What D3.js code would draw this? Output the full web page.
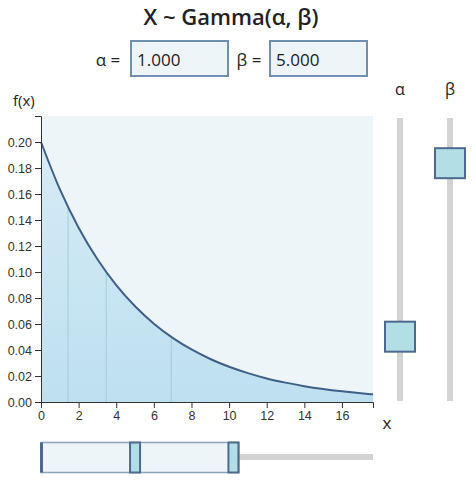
<!DOCTYPE html>
<html>
<head>
<meta charset="utf-8">
<script src="https://cdn.jsdelivr.net/npm/d3@7"></script>
<style>
  body { margin: 0; background: #fff; }
  svg { display: block; }
  .tick text { font-family: "Liberation Sans", Arial, sans-serif; font-size: 12.5px; fill: #333; }
  .axis path, .axis line { stroke: #333; }
</style>
</head>
<body>
<svg width="474" height="482"></svg>
<script>
// values
const alpha = 1.0
const beta = 5.0
const densityX = [0, 1, 2, 3, 4, 5, 6, 7, 8, 9, 10, 11, 12, 13, 14, 15, 16, 17, 17.65]
const densityY = [0.2000, 0.1637, 0.1341, 0.1098, 0.0899, 0.0736, 0.0602, 0.0493, 0.0404, 0.0331, 0.0271, 0.0222, 0.0181, 0.0149, 0.0122, 0.0100, 0.0082, 0.0067, 0.0059]
const quartiles = [1.44, 3.47, 6.93]
const xTicks = [0, 2, 4, 6, 8, 10, 12, 14, 16]
const yTicks = [0, 0.02, 0.04, 0.06, 0.08, 0.10, 0.12, 0.14, 0.16, 0.18, 0.20]
const rangeHandles = [5.0, 10.23] // bottom slider handle positions (x units)

const svg = d3.select('svg')
const x = d3.scaleLinear().domain([0, 17.65]).range([41, 373])
const y = d3.scaleLinear().domain([0, 0.22]).range([402, 116])
const pts = densityX.map((d, i) => [d, densityY[i]])
const fOf = v => {
  // look up the read curve between samples for the quartile lines
  const i = Math.max(1, d3.bisectLeft(densityX, v))
  const t = (v - densityX[i - 1]) / (densityX[i] - densityX[i - 1])
  return densityY[i - 1] * Math.pow(densityY[i] / densityY[i - 1], t)
}

//#region header
svg.append('text')
  .attr('x', 231).attr('y', 25)
  .attr('text-anchor', 'middle')
  .attr('font-family', '"Open Sans", sans-serif')
  .attr('font-weight', 600)
  .attr('font-size', '22px')
  .attr('fill', '#222')
  .text('X ~ Gamma(α, β)')

const inputs = [
  { label: 'α =', value: alpha, lx: 108, bx: 131 },
  { label: 'β =', value: beta, lx: 249, bx: 270 }
]
const inp = svg.selectAll('.inp').data(inputs).join('g').attr('class', 'inp')
inp.append('text')
  .attr('x', d => d.lx).attr('y', 66)
  .attr('text-anchor', 'middle')
  .attr('font-family', '"Open Sans", sans-serif')
  .attr('font-size', '17px')
  .attr('fill', '#222')
  .text(d => d.label)
inp.append('rect')
  .attr('x', d => d.bx).attr('y', 41)
  .attr('width', 97).attr('height', 35)
  .attr('fill', '#eef5f9')
  .attr('stroke', '#6f90b0')
  .attr('stroke-width', 2)
inp.append('text')
  .attr('x', d => d.bx + 6).attr('y', 66)
  .attr('font-family', '"Open Sans", sans-serif')
  .attr('font-size', '17px')
  .attr('fill', '#1a1a1a')
  .text(d => d.value.toFixed(3))
//#endregion

//#region plot
const defs = svg.append('defs')
const grad = defs.append('linearGradient')
  .attr('id', 'fillGrad')
  .attr('gradientUnits', 'userSpaceOnUse')
  .attr('x1', 0).attr('x2', 0)
  .attr('y1', y(0.2)).attr('y2', y(0))
grad.append('stop').attr('offset', 0).attr('stop-color', '#d7ebf6')
grad.append('stop').attr('offset', 1).attr('stop-color', '#bde0f0')

svg.append('rect')
  .attr('x', x(0)).attr('y', y(0.22))
  .attr('width', x(17.65) - x(0)).attr('height', y(0) - y(0.22))
  .attr('fill', '#eef5f8')

svg.append('path')
  .datum(pts)
  .attr('fill', 'url(#fillGrad)')
  .attr('d', d3.area().x(d => x(d[0])).y0(y(0)).y1(d => y(d[1])).curve(d3.curveMonotoneX))

svg.selectAll('.q').data(quartiles).join('line')
  .attr('class', 'q')
  .attr('x1', d => x(d)).attr('x2', d => x(d))
  .attr('y1', y(0)).attr('y2', d => y(fOf(d)))
  .attr('stroke', '#a9cfe2')
  .attr('stroke-width', 1.2)

svg.append('path')
  .datum(pts)
  .attr('fill', 'none')
  .attr('stroke', '#3f5f86')
  .attr('stroke-width', 2)
  .attr('d', d3.line().x(d => x(d[0])).y(d => y(d[1])).curve(d3.curveMonotoneX))

svg.append('g')
  .attr('class', 'axis')
  .attr('transform', `translate(0,${y(0)})`)
  .call(d3.axisBottom(x).tickValues(xTicks).tickFormat(d3.format('d')))
svg.append('g')
  .attr('class', 'axis')
  .attr('transform', `translate(${x(0)},0)`)
  .call(d3.axisLeft(y).tickValues(yTicks).tickFormat(d3.format('.2f')))

svg.append('text')
  .attr('x', 13).attr('y', 106)
  .attr('font-family', '"Open Sans", sans-serif')
  .attr('font-size', '15px')
  .attr('fill', '#222')
  .text('f(x)')
svg.append('text')
  .attr('x', 387).attr('y', 429)
  .attr('text-anchor', 'middle')
  .attr('font-family', '"Open Sans", sans-serif')
  .attr('font-size', '17px')
  .attr('fill', '#222')
  .text('x')
//#endregion

//#region parameter sliders
const sliders = [
  { name: 'α', value: alpha, cx: 400, scale: d3.scaleLinear().domain([0, 4.4]).range([401, 118]) },
  { name: 'β', value: beta, cx: 450, scale: d3.scaleLinear().domain([0, 5.95]).range([401, 118]) }
]
const sl = svg.selectAll('.slider').data(sliders).join('g').attr('class', 'slider')
sl.append('text')
  .attr('x', d => d.cx).attr('y', 95)
  .attr('text-anchor', 'middle')
  .attr('font-family', '"Open Sans", sans-serif')
  .attr('font-size', '16px')
  .attr('fill', '#222')
  .text(d => d.name)
sl.append('line')
  .attr('x1', d => d.cx).attr('x2', d => d.cx)
  .attr('y1', d => d.scale.range()[1]).attr('y2', d => d.scale.range()[0])
  .attr('stroke', '#d3d3d3')
  .attr('stroke-width', 6)
sl.append('rect')
  .attr('x', d => d.cx - 15).attr('y', d => d.scale(d.value) - 15)
  .attr('width', 30).attr('height', 30)
  .attr('fill', '#b2dfe6')
  .attr('stroke', '#4d6a8e')
  .attr('stroke-width', 2)
//#endregion

//#region range slider
const rs = svg.append('g')
rs.append('line')
  .attr('x1', x(0)).attr('x2', x(17.65))
  .attr('y1', 457).attr('y2', 457)
  .attr('stroke', '#d3d3d3')
  .attr('stroke-width', 6)
rs.append('rect')
  .attr('x', x(0)).attr('y', 442.5)
  .attr('width', x(rangeHandles[1]) + 5.5 - x(0)).attr('height', 30)
  .attr('fill', '#eef5f8')
  .attr('stroke', '#8ea3b6')
  .attr('stroke-width', 1.5)
rs.append('line')
  .attr('x1', x(0) + 0.5).attr('x2', x(0) + 0.5)
  .attr('y1', 442.5).attr('y2', 472.5)
  .attr('stroke', '#4d6a8e')
  .attr('stroke-width', 3)
rs.selectAll('.h').data(rangeHandles).join('rect')
  .attr('class', 'h')
  .attr('x', d => x(d) - 5).attr('y', 442.5)
  .attr('width', 10).attr('height', 30)
  .attr('fill', '#b2dfe6')
  .attr('stroke', '#4d6a8e')
  .attr('stroke-width', 2)
//#endregion
</script>
</body>
</html>
